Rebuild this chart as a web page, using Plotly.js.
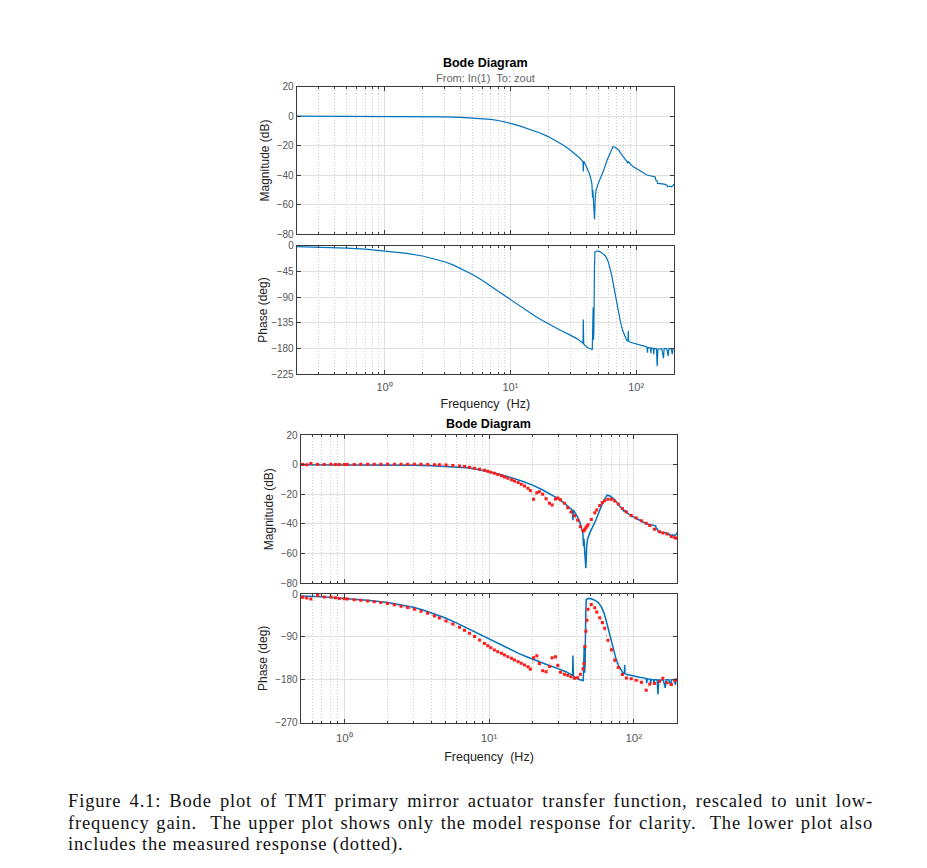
<!DOCTYPE html>
<html>
<head>
<meta charset="utf-8">
<script src="https://cdn.plot.ly/plotly-3.0.1.min.js"></script>
<style>
  html, body { margin: 0; padding: 0; background: #fff; }
  #wrap { position: relative; width: 927px; height: 868px; overflow: hidden; }
  #chart { position: absolute; left: 0; top: 0; width: 927px; height: 868px; }
  #caption {
    position: absolute; left: 68px; top: 791px; width: 805px;
    font-family: "Liberation Serif", "DejaVu Serif", serif;
    font-size: 18.5px; line-height: 21.5px; letter-spacing: 0.85px; color: #111;
  }
  #caption .j { text-align: justify; text-align-last: justify; white-space: nowrap; }
  #caption .l { text-align: left; }
</style>
</head>
<body>
<div id="wrap">
  <div id="chart"></div>
  <div id="caption">
    <div class="j">Figure 4.1: Bode plot of TMT primary mirror actuator transfer function, rescaled to unit low-</div>
    <div class="j">frequency gain.&nbsp; The upper plot shows only the model response for clarity.&nbsp; The lower plot also</div>
    <div class="l">includes the measured response (dotted).</div>
  </div>
</div>
<script>
// ---- Model response: magnitude (Hz, dB) ----
const modelMagFreq = [0.2, 0.5, 1, 2, 3, 4, 5, 6, 7, 8, 9, 10, 11.5, 13, 15, 17, 20, 23, 26, 29, 32, 35,
  37.3, 37.8, 38.0, 38.3, 39.5, 41, 42.5, 43.8, 44.5, 45.0, 45.3, 45.8, 46.3, 46.7, 47.3, 48, 50, 52, 55,
  58.6, 62, 65.4, 68, 72.5, 76, 80, 84, 86.3, 86.8, 90, 95, 100, 110, 122, 130, 138, 142, 143, 146, 148,
  155, 162, 170, 176, 178, 186, 190, 196, 200];
const modelMagDb = [0, 0, -0.05, -0.15, -0.4, -0.75, -1.1, -1.5, -2.1, -2.9, -3.8, -4.8, -6.2, -7.6, -9.4, -11.2, -13.8, -16.6, -19.3, -22, -24.8, -27.8,
  -30.2, -31.5, -37.5, -30.5, -32.5, -35.5, -39, -43, -46, -55, -50, -58, -66, -69.8, -55, -50, -45.5, -42, -37,
  -30, -24.5, -20.6, -21, -22.9, -25.5, -28, -30.3, -31.8, -30.6, -32.5, -34.2, -35.5, -37.5, -39.8, -40.3, -41, -41.2, -43.2, -43.5, -45.5,
  -45.4, -45.8, -46.2, -46.8, -47.8, -47.3, -47.8, -47.2, -45.9];

// ---- Model response: phase (Hz, deg) ----
const modelPhaseFreq = [0.2, 0.3, 0.5, 0.7, 1, 1.5, 2, 2.5, 3, 3.5, 4, 4.5, 5, 6, 7, 8, 9, 10, 12, 14, 16, 18, 21, 25, 30, 34,
  37.5, 37.8, 38.0, 38.3, 40, 42, 44.8, 45.0, 45.2, 45.5, 45.8, 46.1, 46.6, 47, 48.8, 51, 54, 57, 60, 62, 64, 66, 68, 70, 72,
  75, 78, 81, 84, 86.2, 86.6, 87, 90, 100, 110, 120, 122, 123, 124, 130, 131, 132, 137, 138, 139, 145, 147, 149, 160,
  165, 167, 175, 180, 182, 190, 194, 196, 200];
const modelPhaseDeg = [-1.5, -2.4, -4.2, -6, -9, -13.5, -18, -22.8, -28, -33.5, -39.5, -45, -50.5, -61, -71, -80, -88, -95, -107, -116.5, -124.5, -131, -139.5, -148, -156.5, -163,
  -170, -171, -129, -172, -176.5, -179.5, -181.5, -112, -160, -108, -165, -150, -40, -11, -9.3, -10, -13.4, -18, -28, -38, -52, -68, -85, -100, -115,
  -133, -148, -158, -165, -166.5, -149, -167, -169, -172.5, -174.5, -176.5, -178, -187, -178, -179, -188, -179, -180, -190, -180, -180, -211, -181, -180,
  -197, -180, -180, -193, -180, -180, -190, -180, -180];

// ---- Measured response (Hz, dB, deg) ----
const measFreq = [0.515, 0.55, 0.588, 0.654, 0.727, 0.81, 0.87, 0.924, 1.0, 1.05, 1.17, 1.3, 1.45, 1.61, 1.79, 1.99,
  2.22, 2.47, 2.74, 3.05, 3.39, 3.77, 4.2, 4.54, 5.05, 5.62, 6.25, 6.77, 7.33, 7.94, 8.6, 9.3, 9.8, 10.3, 10.9, 11.5,
  12.2, 12.8, 13.5, 14.3, 15, 15.9, 16.7, 17.6, 18.6, 19.3, 20.3, 21.4, 22.3, 23.5, 24.8, 26.2, 27.3, 28.8, 29.9, 31.2,
  33.2, 35, 36.9, 39, 41, 42.8, 44.6, 45.3, 46, 46.7, 47.5, 48.3, 50.9, 53.8, 55.5, 58.2, 60.7, 63, 66.4, 70.1, 73.9,
  78.2, 83.5, 89, 96, 104, 113, 122, 129, 139, 151, 159, 170, 182, 192, 198];
const measMagDb = [0.1, 0.0, 0.7, 0.1, 0.1, 0.2, 0.1, 0.1, 0.1, 0.1, 0.1, 0.2, 0.2, 0.2, 0.2, 0.2,
  0.3, 0.3, 0.3, 0.2, 0.2, 0.1, 0.0, -0.1, -0.3, -0.5, -0.9, -1.2, -1.8, -2.4, -3.1, -3.8, -4.4, -5.1, -5.8, -6.6,
  -7.5, -8.3, -9.1, -10.1, -11, -12.1, -13.2, -14.4, -15.9, -17.4, -23.3, -18.9, -18.2, -20, -23, -26, -27.2, -23.1, -22.5, -23.6,
  -26, -29, -32, -34.5, -37.5, -41.8, -44.5, -44.5, -43.5, -42.5, -41.5, -40.5, -37, -32.5, -30.5, -27.5, -25.5, -24.3, -23.3, -23.3, -24.5,
  -26.5, -29.5, -32, -34.3, -36, -37.8, -39.5, -41, -43.5, -45.2, -46, -46.7, -48.5, -49.3, -49.6];
const measPhaseDeg = [-7, -8.5, -10.5, -2.8, -6.3, -6.5, -8, -9.5, -10, -10.5, -11.9, -13.3, -14.7, -16.1, -18, -20,
  -22.8, -25.5, -28.5, -32, -36, -40.5, -46, -50.5, -56.5, -63, -70, -76, -82.5, -89, -96.5, -104, -108.5, -113, -117.5, -121,
  -124.5, -128, -131.5, -135, -138.5, -142, -145.5, -149, -152.5, -158, -134, -129.5, -146, -161, -163, -152, -134, -131.5, -150, -164,
  -168.5, -170.5, -173.5, -177, -175.5, -168.5, -157, -146, -110, -78, -55, -32, -22, -29, -38, -50, -60, -72, -97, -117, -139,
  -154, -169, -176, -178, -181, -185, -202, -189, -188, -183, -177, -186, -190, -181, -180];

// ---- Axis tick values ----
const decadeVals = [1, 10, 100];
const decadeText = ['10\u2070', '10\u00B9', '10\u00B2'];
const minorTop = [0.2, 0.3, 0.4, 0.5, 0.6, 0.7, 0.8, 0.9, 2, 3, 4, 5, 6, 7, 8, 9, 20, 30, 40, 50, 60, 70, 80, 90, 200];
const minorBottom = [0.5, 0.6, 0.7, 0.8, 0.9, 2, 3, 4, 5, 6, 7, 8, 9, 20, 30, 40, 50, 60, 70, 80, 90, 200];
const magTicks = [-80, -60, -40, -20, 0, 20];
const phaseTicksTop = [-225, -180, -135, -90, -45, 0];
const phaseTicksBottom = [-270, -180, -90, 0];

// ---- Styling ----
const W = 927, H = 868;
const FONT = '"Liberation Sans", Arial, Helvetica, sans-serif';
const AXC = '#3a3a3a';
const TICKC = '#555555';
const GRID = '#e0e0e0';
const GRIDMINOR = '#cfcfcf';
const BLUE = '#0072BD';

const px = (x) => x / W;
const py = (y) => 1 - y / H;

function xAxis(left, right, range, minorVals, anchor, showLabels, opts) {
  const ax = {
    type: 'log', domain: [px(left), px(right)], range: range, anchor: anchor,
    showline: true, linecolor: AXC, linewidth: 1, mirror: 'allticks',
    ticks: 'inside', ticklen: 4, tickwidth: 1, tickcolor: AXC,
    tickmode: 'array', tickvals: decadeVals, ticktext: decadeText,
    showticklabels: showLabels,
    tickfont: { family: FONT, size: (opts && opts.tickSize) || 11, color: TICKC },
    showgrid: true, gridcolor: GRID, gridwidth: 1, zeroline: false,
    minor: { tickmode: 'array', tickvals: minorVals, ticks: 'inside', ticklen: 2, tickcolor: AXC,
             showgrid: true, gridcolor: GRIDMINOR, griddash: '1px,2px', gridwidth: 1 },
    fixedrange: true
  };
  if (opts) {
    ax.ticklabelstandoff = opts.labelGap;
    ax.title = { text: 'Frequency  (Hz)', font: { family: FONT, size: 12.5, color: '#222' }, standoff: opts.standoff };
  }
  return ax;
}

function yAxis(top, bottom, range, ticks, anchor, title, standoff) {
  return {
    domain: [py(bottom), py(top)], range: range, anchor: anchor,
    showline: true, linecolor: AXC, linewidth: 1, mirror: 'allticks',
    ticks: 'inside', ticklen: 4, tickwidth: 1, tickcolor: AXC,
    tickmode: 'array', tickvals: ticks,
    tickfont: { family: FONT, size: 10, color: TICKC },
    showgrid: true, gridcolor: GRID, gridwidth: 1, zeroline: false,
    title: { text: title, font: { family: FONT, size: 12, color: '#222' }, standoff: standoff },
    fixedrange: true
  };
}

const topRange = [Math.log10(0.2), Math.log10(200)];
const botRange = [Math.log10(0.5), Math.log10(200)];

const modelLine = (w) => ({ color: BLUE, width: w });
const measMarker = { symbol: 'square', size: 3, color: '#ff1a1a', line: { width: 0 } };
const measLine = { color: 'rgba(255,70,70,0.5)', width: 1, dash: 'dot' };

const traces = [
  { x: modelMagFreq, y: modelMagDb, xaxis: 'x', yaxis: 'y', mode: 'lines', line: modelLine(1.2), name: 'model' },
  { x: modelPhaseFreq, y: modelPhaseDeg, xaxis: 'x2', yaxis: 'y2', mode: 'lines', line: modelLine(1.2), name: 'model' },
  { x: modelMagFreq, y: modelMagDb, xaxis: 'x3', yaxis: 'y3', mode: 'lines', line: modelLine(1.5), name: 'model' },
  { x: measFreq, y: measMagDb, xaxis: 'x3', yaxis: 'y3', mode: 'lines+markers', line: measLine, marker: measMarker, name: 'measured' },
  { x: modelPhaseFreq, y: modelPhaseDeg, xaxis: 'x4', yaxis: 'y4', mode: 'lines', line: modelLine(1.5), name: 'model' },
  { x: measFreq, y: measPhaseDeg, xaxis: 'x4', yaxis: 'y4', mode: 'lines+markers', line: measLine, marker: measMarker, name: 'measured' }
];

const layout = {
  width: W, height: H,
  margin: { l: 0, r: 0, t: 0, b: 0 },
  paper_bgcolor: '#ffffff', plot_bgcolor: '#ffffff',
  showlegend: false,
  font: { family: FONT },
  title: {
    text: 'Bode Diagram', font: { family: FONT, size: 12.5, color: '#000', weight: 'bold' },
    xref: 'paper', x: px(485.3), xanchor: 'center', yref: 'container', y: py(63), yanchor: 'middle'
  },
  // upper figure: model only
  xaxis:  xAxis(296.7, 674, topRange, minorTop, 'y', false),
  yaxis:  yAxis(86.7, 234.3, [-80, 20], magTicks, 'x', 'Magnitude (dB)', 4),
  xaxis2: xAxis(296.7, 674, topRange, minorTop, 'y2', true, { labelGap: 2, standoff: 7 }),
  yaxis2: yAxis(245.7, 374.3, [-225, 0], phaseTicksTop, 'x2', 'Phase (deg)', 0),
  // lower figure: model and measurement
  xaxis3: xAxis(300.7, 677.3, botRange, minorBottom, 'y3', false),
  yaxis3: yAxis(435, 583.3, [-80, 20], magTicks, 'x3', 'Magnitude (dB)', 4),
  xaxis4: xAxis(300.7, 677.3, botRange, minorBottom, 'y4', true, { labelGap: 4, standoff: 9, tickSize: 11.5 }),
  yaxis4: yAxis(594, 722.7, [-270, 0], phaseTicksBottom, 'x4', 'Phase (deg)', 4),
  annotations: [
    { text: 'From: In(1)  To: zout', xref: 'paper', yref: 'paper', x: px(485.3), y: py(78),
      xanchor: 'center', yanchor: 'middle', showarrow: false,
      font: { family: FONT, size: 11, color: '#666' } },
    { text: 'Bode Diagram', xref: 'paper', yref: 'paper', x: px(489), y: py(424),
      xanchor: 'center', yanchor: 'middle', showarrow: false,
      font: { family: FONT, size: 12.5, color: '#000', weight: 'bold' } }
  ]
};

Plotly.newPlot('chart', traces, layout, { staticPlot: true, displayModeBar: false });
</script>
</body>
</html>
